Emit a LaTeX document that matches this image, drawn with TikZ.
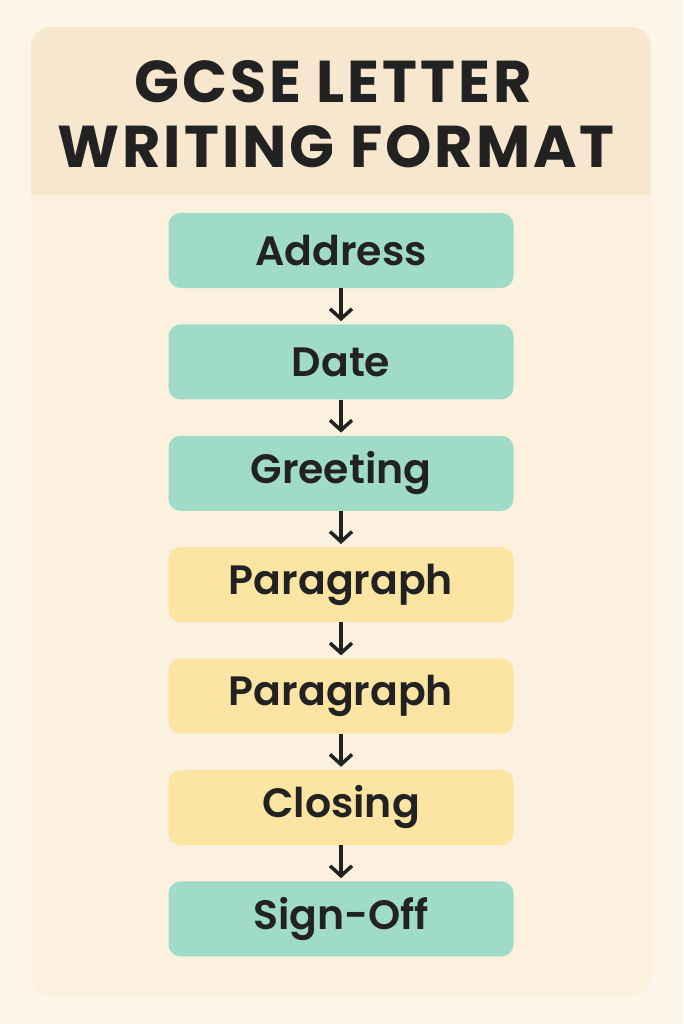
\documentclass[tikz,border=0pt]{standalone}
\usepackage{fontspec}
\setmainfont{Poppins}
\newfontfamily\titlefont[LetterSpace=5]{Poppins}
\newfontfamily\labelfont{Poppins SemiBold}
\usepackage{xcolor}
\usepackage{tikz}
\usetikzlibrary{positioning,arrows.meta}

\definecolor{pagebg}{RGB}{253,246,232}
\definecolor{panelbg}{RGB}{252,240,223}
\definecolor{headbg}{RGB}{247,231,206}
\definecolor{tealbox}{RGB}{160,219,200}
\definecolor{sandbox}{RGB}{252,228,162}
\definecolor{ink}{RGB}{34,34,34}

\begin{document}
\begin{tikzpicture}[
	x=1pt, y=1pt,
	titleline/.style={
		anchor=base,
		text=ink,
		font=\titlefont\fontsize{59}{66}\bfseries\selectfont
	},
	stepbox/.style={
		rectangle, rounded corners=12pt,
		minimum width=345pt,
		minimum height=75pt,
		inner sep=0pt,
		text=ink,
		font=\labelfont\fontsize{41}{48}\selectfont
	},
	green/.style={stepbox, fill=tealbox},
	yellow/.style={stepbox, fill=sandbox},
	link/.style={
		draw=ink, line width=3.5pt,
		-{Straight Barb[length=10pt,width=22pt]},
		shorten >=3pt
	},
	node distance=36pt
]
% page and panel
\fill[pagebg] (0,0) rectangle (683,-1024);
\useasboundingbox (0,0) rectangle (683,-1024);
\fill[panelbg, rounded corners=20pt] (31,-27) rectangle (651,-996);
\begin{scope}
	\clip[rounded corners=20pt] (31,-27) rectangle (651,-996);
	\fill[headbg] (31,-27) rectangle (651,-195);
\end{scope}

% title
\node[titleline] (title1) at (333,-103) {GCSE LETTER};
\node[titleline] (title2) at (336,-168) {WRITING FORMAT};

% steps
\node[green] (address) at (341,-250.5) {Address};
\node[green, below=of address] (date) {Date};
\node[green, below=of date] (greeting) {Greeting};
\node[yellow, below=of greeting] (para1) {Paragraph};
\node[yellow, below=of para1] (para2) {Paragraph};
\node[yellow, below=of para2] (closing) {Closing};
\node[green, below=of closing] (signoff) {Sign-Off};

\foreach \a/\b in {address/date, date/greeting, greeting/para1,
	para1/para2, para2/closing, closing/signoff}
	\draw[link] (\a) -- (\b);
\end{tikzpicture}
\end{document}
